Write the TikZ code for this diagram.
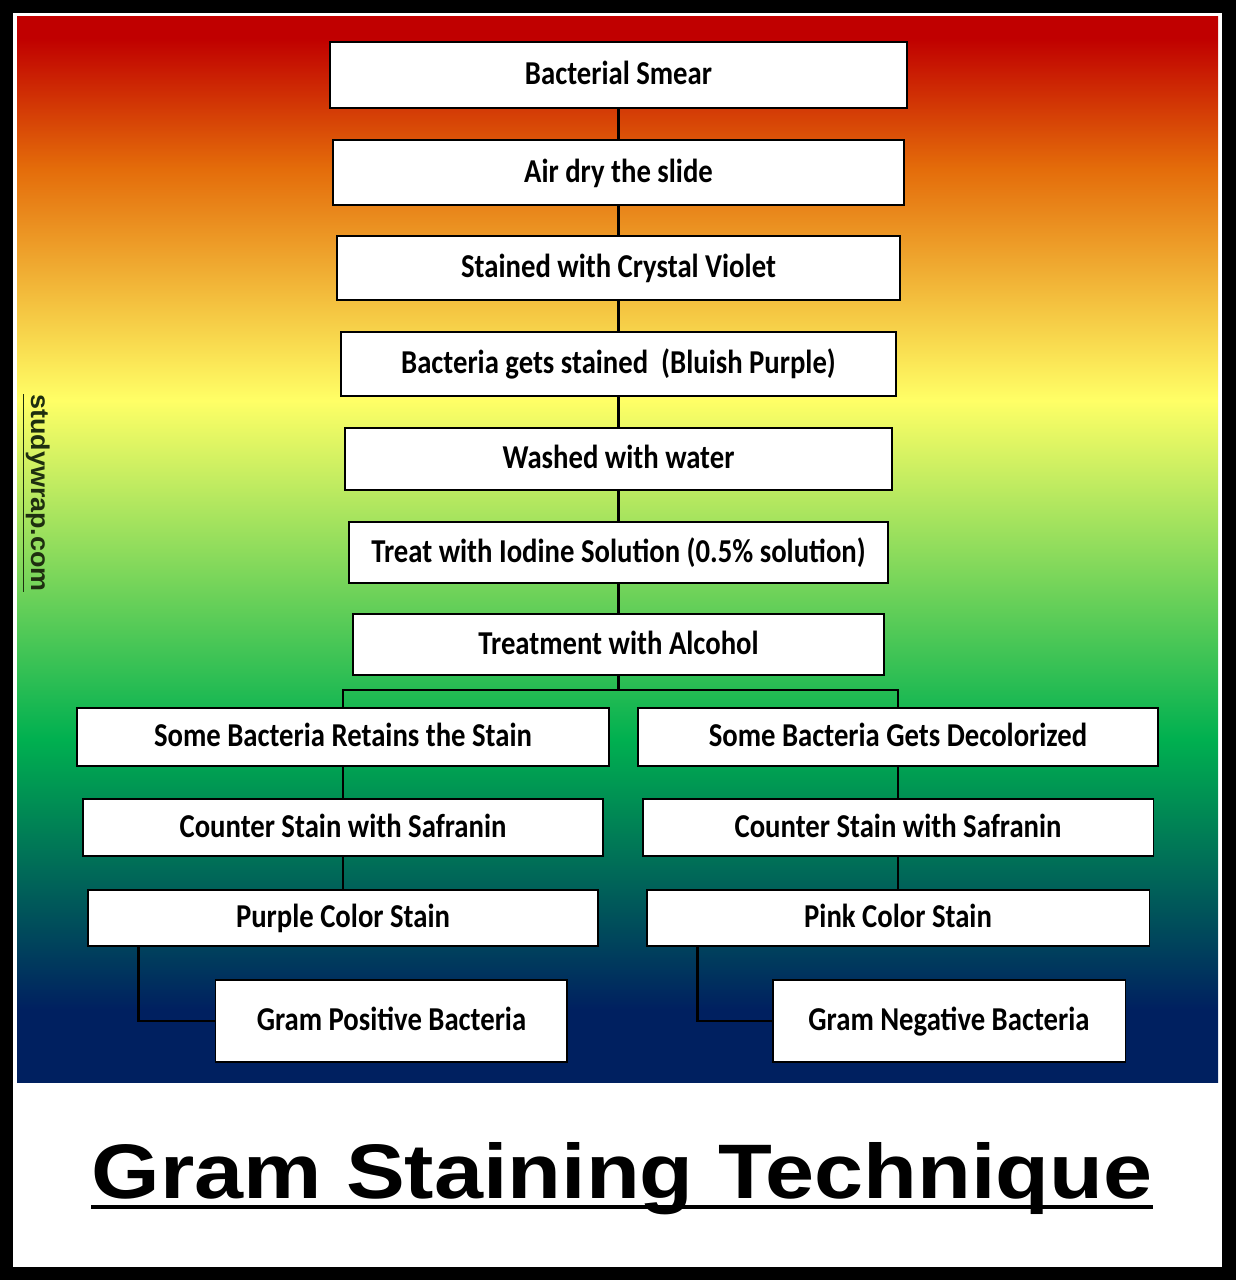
\documentclass[tikz,border=0pt]{standalone}
\usepackage{fontspec}
\usepackage{tikz}
\usetikzlibrary{positioning,calc}

\newfontfamily\boxfont[FakeStretch=0.86]{Carlito}
\newfontfamily\titlefont[FakeStretch=1.14]{Liberation Sans}
\newfontfamily\markfont[FakeStretch=1.05]{Liberation Sans}

\definecolor{bgred}{HTML}{C00000}
\definecolor{bgorange}{HTML}{E46C0A}
\definecolor{bgyellow}{HTML}{FFFF66}
\definecolor{bggreen}{HTML}{00B050}
\definecolor{bgnavy}{HTML}{002060}
\definecolor{wmark}{HTML}{1E2E10}
\pgfdeclareverticalshading{bgfade}{100bp}{color(0bp)=(bgnavy); color(28.4bp)=(bgnavy); color(41.1bp)=(bggreen); color(57bp)=(bgyellow); color(67.9bp)=(bgorange); color(74bp)=(bgred); color(100bp)=(bgred)}

\begin{document}
\begin{tikzpicture}[x=0.02cm,y=-0.02cm,
	stepbox/.style={draw=black,line width=1.1pt,fill=white,inner sep=0pt,outer sep=0pt,
		text height=14pt,text depth=3pt,
		font={\boxfont\bfseries\fontsize{19}{22}\selectfont}},
	conn/.style={line width=1.3pt,draw=black}]
	\useasboundingbox (0,0) rectangle (1236,1280);
	\fill[black] (0,0) rectangle (1236,1280);
	\fill[white] (13,13) rectangle (1222,1267);
	\shade[shading=bgfade] (17,17) rectangle (1218,1082);
	% main column
	\node[stepbox,minimum width=11.54cm,minimum height=1.32cm](smear) at (618.5,75){Bacterial Smear};
	\node[stepbox,minimum width=11.44cm,minimum height=1.30cm](dry)[below=0.64cm of smear]{Air dry the slide};
	\node[stepbox,minimum width=11.28cm,minimum height=1.28cm](violet)[below=0.62cm of dry]{Stained with Crystal Violet};
	\node[stepbox,minimum width=11.12cm,minimum height=1.28cm](bluish)[below=0.64cm of violet]{Bacteria gets stained\ \ (Bluish Purple)};
	\node[stepbox,minimum width=10.96cm,minimum height=1.24cm](wash)[below=0.64cm of bluish]{Washed with water};
	\node[stepbox,minimum width=10.80cm,minimum height=1.22cm](iodine)[below=0.64cm of wash]{Treat with Iodine Solution (0.5\% solution)};
	\node[stepbox,minimum width=10.64cm,minimum height=1.22cm](alcohol)[below=0.62cm of iodine]{Treatment with Alcohol};
	% two branches
	\node[stepbox,minimum width=10.64cm,minimum height=1.16cm,anchor=north](retain) at (343,708){Some Bacteria Retains the Stain};
	\node[stepbox,minimum width=10.40cm,minimum height=1.16cm,anchor=north](decolor) at (898,708){Some Bacteria Gets Decolorized};
	\node[stepbox,minimum width=10.42cm,minimum height=1.14cm](safl)[below=0.66cm of retain]{Counter Stain with Safranin};
	\node[stepbox,minimum width=10.22cm,minimum height=1.14cm](safr)[below=0.66cm of decolor]{Counter Stain with Safranin};
	\node[stepbox,minimum width=10.22cm,minimum height=1.12cm](purplest)[below=0.68cm of safl]{Purple Color Stain};
	\node[stepbox,minimum width=10.06cm,minimum height=1.12cm](pinkst)[below=0.68cm of safr]{Pink Color Stain};
	\node[stepbox,minimum width=7.04cm,minimum height=1.64cm](gpos)[below=0.68cm of purplest,xshift=0.97cm]{Gram Positive Bacteria};
	\node[stepbox,minimum width=7.06cm,minimum height=1.64cm](gneg)[below=0.68cm of pinkst,xshift=1.02cm]{Gram Negative Bacteria};
	\path[conn](smear) edge (dry);
	\path[conn](dry) edge (violet);
	\path[conn](violet) edge (bluish);
	\path[conn](bluish) edge (wash);
	\path[conn](wash) edge (iodine);
	\path[conn](iodine) edge (alcohol);
	\draw[conn](alcohol.south) -- ++(0,15) -| (retain.north);
	\draw[conn](alcohol.south) -- ++(0,15) -| (decolor.north);
	\path[conn](retain) edge (safl);
	\path[conn](safl) edge (purplest);
	\path[conn](decolor) edge (safr);
	\path[conn](safr) edge (pinkst);
	\draw[conn]($(purplest.south west)+(51,0)$) |- (gpos.west);
	\draw[conn]($(pinkst.south west)+(51,0)$) |- (gneg.west);
	% side mark and title
	\node[rotate=-90,text=wmark,font={\markfont\bfseries\fontsize{14.6}{17}\selectfont}](site) at (36,493){\underline{studywrap.com}};
	\node[anchor=base,inner sep=0pt,font={\titlefont\bfseries\fontsize{44}{50}\selectfont}](title) at (622,1198){Gram Staining Technique};
	\draw[line width=0.08cm]($(title.base west)+(0,9)$) -- ($(title.base east)+(0,9)$);
\end{tikzpicture}
\end{document}
